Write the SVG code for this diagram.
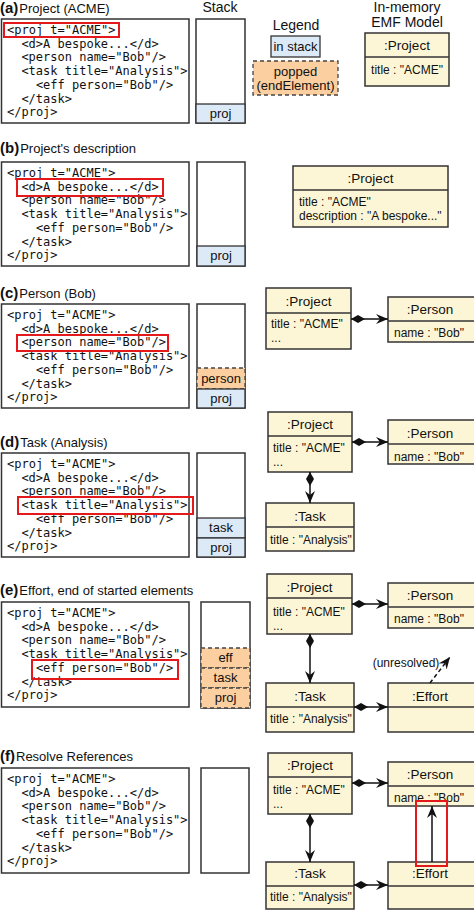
<svg xmlns="http://www.w3.org/2000/svg" width="474" height="910" viewBox="0 0 474 910">
<style>
  .bg{fill:#ffffff}
  .title{font-family:"Liberation Sans",Arial,sans-serif;font-size:13px;fill:#111}
  .lbl{font-family:"Liberation Sans",Arial,sans-serif;font-size:15px;font-weight:bold;fill:#111}
  .code{font-family:"DejaVu Sans Mono",monospace;font-size:12px;fill:#111}
  .codebox{fill:#ffffff;stroke:#333;stroke-width:1.5}
  .stackbox{fill:#ffffff;stroke:#333;stroke-width:1.5}
  .instack{fill:#dce9f7;stroke:#333;stroke-width:1.3}
  .popped{fill:#fbcf9f;stroke:#444;stroke-width:1.3;stroke-dasharray:4 3}
  .cell{font-family:"Liberation Sans",Arial,sans-serif;font-size:13px;fill:#111;text-anchor:middle}
  .hl{fill:none;stroke:#e3191c;stroke-width:2}
  .uml{fill:#fdf6d6;stroke:#333;stroke-width:1.5}
  .div{stroke:#333;stroke-width:1.3}
  .uname{font-family:"Liberation Sans",Arial,sans-serif;font-size:13.5px;fill:#111;text-anchor:middle}
  .uattr{font-family:"Liberation Sans",Arial,sans-serif;font-size:12px;fill:#111}
  .conn{stroke:#111;stroke-width:1.5;fill:none}
  .dash{stroke-dasharray:4 3}
  .head{font-family:"Liberation Sans",Arial,sans-serif;font-size:14px;fill:#111;text-anchor:middle}
</style>
<defs>
  <marker id="dia" viewBox="0 0 14 8" refX="0" refY="4" markerWidth="14" markerHeight="8" markerUnits="userSpaceOnUse" orient="auto">
    <path d="M0,4 L7,0 L14,4 L7,8 Z" fill="#111"/>
  </marker>
  <marker id="arr" viewBox="0 0 12 10" refX="12" refY="5" markerWidth="12" markerHeight="10" markerUnits="userSpaceOnUse" orient="auto">
    <path d="M0,0 L12,5 L0,10 L4,5 Z" fill="#111"/>
  </marker>
</defs>
<rect class="bg" x="0" y="0" width="474" height="910"/>

<!-- Headers -->
<g id="headers">
  <text class="head" x="220" y="12">Stack</text>
  <text class="head" x="296" y="30">Legend</text>
  <text class="head" x="407" y="12">In-memory</text>
  <text class="head" x="407" y="27">EMF Model</text>
</g>
<g id="legend">
  <rect class="instack" x="271" y="36" width="49" height="21"/>
  <text class="cell" x="295.5" y="51">in stack</text>
  <rect class="popped" x="253" y="61" width="85" height="34"/>
  <text class="cell" x="295.5" y="76">popped</text>
  <text class="cell" x="295.5" y="90">(endElement)</text>
</g>

<!-- Panel (a) -->
<g id="panel-a">
  <text x="0" y="13"><tspan class="lbl">(a)</tspan><tspan class="title" dx="1">Project (ACME)</tspan></text>
  <g id="code-a" transform="translate(0,19)">
    <rect class="codebox" x="1.5" y="0" width="187.5" height="104"/>
    <text class="code" x="7" y="15">&lt;proj t="ACME"&gt;</text>
    <text class="code" x="21.4" y="28.7">&lt;d&gt;A bespoke...&lt;/d&gt;</text>
    <text class="code" x="21.4" y="42.4">&lt;person name="Bob"/&gt;</text>
    <text class="code" x="21.4" y="56.1">&lt;task title="Analysis"&gt;</text>
    <text class="code" x="35.9" y="69.8">&lt;eff person="Bob"/&gt;</text>
    <text class="code" x="21.4" y="83.5">&lt;/task&gt;</text>
    <text class="code" x="7" y="97.2">&lt;/proj&gt;</text>
    <rect class="hl" x="4" y="4" width="115" height="14"/>
  </g>
  <g id="stack-a">
    <rect class="stackbox" x="196" y="19" width="49" height="104"/>
    <rect class="instack" x="196" y="104" width="49" height="19"/>
    <text class="cell" x="220.5" y="118">proj</text>
  </g>
  <g id="a-project">
    <rect class="uml" x="365" y="33" width="84" height="53"/>
    <line class="div" x1="365" y1="57" x2="449" y2="57"/>
    <text class="uname" x="407" y="50">:Project</text>
    <text class="uattr" x="407" y="74" text-anchor="middle">title : "ACME"</text>
  </g>
</g>

<!-- Panel (b) -->
<g id="panel-b">
  <text x="0" y="153"><tspan class="lbl">(b)</tspan><tspan class="title" dx="1">Project's description</tspan></text>
  <g id="code-b" transform="translate(0,162)">
    <rect class="codebox" x="1.5" y="0" width="187.5" height="104"/>
    <text class="code" x="7" y="15">&lt;proj t="ACME"&gt;</text>
    <text class="code" x="21.4" y="28.7">&lt;d&gt;A bespoke...&lt;/d&gt;</text>
    <text class="code" x="21.4" y="42.4">&lt;person name="Bob"/&gt;</text>
    <text class="code" x="21.4" y="56.1">&lt;task title="Analysis"&gt;</text>
    <text class="code" x="35.9" y="69.8">&lt;eff person="Bob"/&gt;</text>
    <text class="code" x="21.4" y="83.5">&lt;/task&gt;</text>
    <text class="code" x="7" y="97.2">&lt;/proj&gt;</text>
    <rect class="hl" x="17" y="17" width="146" height="17"/>
  </g>
  <g id="stack-b">
    <rect class="stackbox" x="197" y="162" width="48" height="104"/>
    <rect class="instack" x="197" y="246" width="48" height="20"/>
    <text class="cell" x="221" y="260">proj</text>
  </g>
  <g id="b-project">
    <rect class="uml" x="293" y="166" width="155" height="61"/>
    <line class="div" x1="293" y1="190" x2="448" y2="190"/>
    <text class="uname" x="370.5" y="183">:Project</text>
    <text class="uattr" x="299" y="206">title : "ACME"</text>
    <text class="uattr" x="299" y="220">description : "A bespoke..."</text>
  </g>
</g>

<!-- Panel (c) -->
<g id="panel-c">
  <text x="0" y="298"><tspan class="lbl">(c)</tspan><tspan class="title" dx="1">Person (Bob)</tspan></text>
  <g id="code-c" transform="translate(0,304)">
    <rect class="codebox" x="1.5" y="0" width="187.5" height="104"/>
    <text class="code" x="7" y="15">&lt;proj t="ACME"&gt;</text>
    <text class="code" x="21.4" y="28.7">&lt;d&gt;A bespoke...&lt;/d&gt;</text>
    <text class="code" x="21.4" y="42.4">&lt;person name="Bob"/&gt;</text>
    <text class="code" x="21.4" y="56.1">&lt;task title="Analysis"&gt;</text>
    <text class="code" x="35.9" y="69.8">&lt;eff person="Bob"/&gt;</text>
    <text class="code" x="21.4" y="83.5">&lt;/task&gt;</text>
    <text class="code" x="7" y="97.2">&lt;/proj&gt;</text>
    <rect class="hl" x="17" y="31" width="151" height="16"/>
  </g>
  <g id="stack-c">
    <rect class="stackbox" x="197" y="304" width="48" height="104"/>
    <rect class="popped" x="197" y="368" width="48" height="21"/>
    <text class="cell" x="221" y="383">person</text>
    <rect class="instack" x="197" y="389" width="48" height="19"/>
    <text class="cell" x="221" y="403">proj</text>
  </g>
  <g id="c-project">
    <rect class="uml" x="266" y="288" width="85" height="61"/>
    <line class="div" x1="266" y1="313" x2="351" y2="313"/>
    <text class="uname" x="308.5" y="306">:Project</text>
    <text class="uattr" x="271" y="328">title : "ACME"</text>
    <text class="uattr" x="271" y="342">...</text>
  </g>
  <g id="c-person">
    <rect class="uml" x="388" y="297" width="100" height="45"/>
    <line class="div" x1="388" y1="321" x2="488" y2="321"/>
    <text class="uname" x="430" y="314">:Person</text>
    <text class="uattr" x="394" y="337">name : "Bob"</text>
  </g>
</g>

<!-- Panel (d) -->
<g id="panel-d">
  <text x="0" y="447"><tspan class="lbl">(d)</tspan><tspan class="title" dx="1">Task (Analysis)</tspan></text>
  <g id="code-d" transform="translate(0,453)">
    <rect class="codebox" x="1.5" y="0" width="187.5" height="104"/>
    <text class="code" x="7" y="15">&lt;proj t="ACME"&gt;</text>
    <text class="code" x="21.4" y="28.7">&lt;d&gt;A bespoke...&lt;/d&gt;</text>
    <text class="code" x="21.4" y="42.4">&lt;person name="Bob"/&gt;</text>
    <text class="code" x="21.4" y="56.1">&lt;task title="Analysis"&gt;</text>
    <text class="code" x="35.9" y="69.8">&lt;eff person="Bob"/&gt;</text>
    <text class="code" x="21.4" y="83.5">&lt;/task&gt;</text>
    <text class="code" x="7" y="97.2">&lt;/proj&gt;</text>
    <rect class="hl" x="18" y="44" width="175" height="17"/>
  </g>
  <g id="stack-d">
    <rect class="stackbox" x="197" y="453" width="48" height="104"/>
    <rect class="instack" x="197" y="518" width="48" height="20"/>
    <text class="cell" x="221" y="532">task</text>
    <rect class="instack" x="197" y="538" width="48" height="19"/>
    <text class="cell" x="221" y="552">proj</text>
  </g>
  <g id="d-project">
    <rect class="uml" x="268" y="412" width="84" height="60"/>
    <line class="div" x1="268" y1="436" x2="352" y2="436"/>
    <text class="uname" x="310" y="429">:Project</text>
    <text class="uattr" x="273" y="452">title : "ACME"</text>
    <text class="uattr" x="273" y="466">...</text>
  </g>
  <g id="d-person">
    <rect class="uml" x="388" y="420" width="100" height="44"/>
    <line class="div" x1="388" y1="444" x2="488" y2="444"/>
    <text class="uname" x="430" y="438">:Person</text>
    <text class="uattr" x="394" y="461">name : "Bob"</text>
  </g>
  <g id="d-task">
    <rect class="uml" x="266" y="503" width="88" height="48"/>
    <line class="div" x1="266" y1="527" x2="354" y2="527"/>
    <text class="uname" x="310" y="521">:Task</text>
    <text class="uattr" x="270" y="544">title : "Analysis"</text>
  </g>
</g>

<!-- Panel (e) -->
<g id="panel-e">
  <text x="0" y="595"><tspan class="lbl">(e)</tspan><tspan class="title" dx="1">Effort, end of started elements</tspan></text>
  <g id="code-e" transform="translate(0,602)">
    <rect class="codebox" x="1.5" y="0" width="187.5" height="105"/>
    <text class="code" x="7" y="15">&lt;proj t="ACME"&gt;</text>
    <text class="code" x="21.4" y="28.7">&lt;d&gt;A bespoke...&lt;/d&gt;</text>
    <text class="code" x="21.4" y="42.4">&lt;person name="Bob"/&gt;</text>
    <text class="code" x="21.4" y="56.1">&lt;task title="Analysis"&gt;</text>
    <text class="code" x="35.9" y="69.8">&lt;eff person="Bob"/&gt;</text>
    <text class="code" x="21.4" y="83.5">&lt;/task&gt;</text>
    <text class="code" x="7" y="97.2">&lt;/proj&gt;</text>
    <rect class="hl" x="32" y="58" width="146" height="19"/>
  </g>
  <g id="stack-e">
    <rect class="stackbox" x="201" y="602" width="49" height="106"/>
    <rect class="popped" x="201" y="648" width="49" height="20"/>
    <text class="cell" x="225.5" y="662">eff</text>
    <rect class="popped" x="201" y="668" width="49" height="20"/>
    <text class="cell" x="225.5" y="682">task</text>
    <rect class="popped" x="201" y="688" width="49" height="20"/>
    <text class="cell" x="225.5" y="702">proj</text>
  </g>
  <g id="e-project">
    <rect class="uml" x="267" y="574" width="85" height="60"/>
    <line class="div" x1="267" y1="598" x2="352" y2="598"/>
    <text class="uname" x="309.5" y="592">:Project</text>
    <text class="uattr" x="273" y="616">title : "ACME"</text>
    <text class="uattr" x="273" y="630">...</text>
  </g>
  <g id="e-person">
    <rect class="uml" x="388" y="583" width="100" height="45"/>
    <line class="div" x1="388" y1="607" x2="488" y2="607"/>
    <text class="uname" x="430" y="600">:Person</text>
    <text class="uattr" x="394" y="623">name : "Bob"</text>
  </g>
  <g id="e-task">
    <rect class="uml" x="266" y="683" width="88" height="49"/>
    <line class="div" x1="266" y1="707" x2="354" y2="707"/>
    <text class="uname" x="310" y="701">:Task</text>
    <text class="uattr" x="270" y="723">title : "Analysis"</text>
  </g>
  <g id="e-effort">
    <rect class="uml" x="388" y="683" width="100" height="49"/>
    <line class="div" x1="388" y1="707" x2="488" y2="707"/>
    <text class="uname" x="430" y="701">:Effort</text>
  </g>
  <text class="uattr" x="406" y="667" text-anchor="middle">(unresolved)</text>
</g>

<!-- Panel (f) -->
<g id="panel-f">
  <text x="0" y="761"><tspan class="lbl">(f)</tspan><tspan class="title" dx="1">Resolve References</tspan></text>
  <g id="code-f" transform="translate(0,768)">
    <rect class="codebox" x="1.5" y="0" width="187.5" height="105"/>
    <text class="code" x="7" y="15">&lt;proj t="ACME"&gt;</text>
    <text class="code" x="21.4" y="28.7">&lt;d&gt;A bespoke...&lt;/d&gt;</text>
    <text class="code" x="21.4" y="42.4">&lt;person name="Bob"/&gt;</text>
    <text class="code" x="21.4" y="56.1">&lt;task title="Analysis"&gt;</text>
    <text class="code" x="35.9" y="69.8">&lt;eff person="Bob"/&gt;</text>
    <text class="code" x="21.4" y="83.5">&lt;/task&gt;</text>
    <text class="code" x="7" y="97.2">&lt;/proj&gt;</text>
  </g>
  <g id="stack-f">
    <rect class="stackbox" x="201" y="768" width="48" height="105"/>
  </g>
  <g id="f-project">
    <rect class="uml" x="268" y="753" width="84" height="61"/>
    <line class="div" x1="268" y1="777" x2="352" y2="777"/>
    <text class="uname" x="310" y="770">:Project</text>
    <text class="uattr" x="273" y="794">title : "ACME"</text>
    <text class="uattr" x="273" y="808">...</text>
  </g>
  <g id="f-person">
    <rect class="uml" x="388" y="762" width="100" height="44"/>
    <line class="div" x1="388" y1="786" x2="488" y2="786"/>
    <text class="uname" x="430" y="779">:Person</text>
    <text class="uattr" x="394" y="802">name : "Bob"</text>
  </g>
  <g id="f-task">
    <rect class="uml" x="266" y="862" width="88" height="47"/>
    <line class="div" x1="266" y1="886" x2="354" y2="886"/>
    <text class="uname" x="310" y="878">:Task</text>
    <text class="uattr" x="270" y="901">title : "Analysis"</text>
  </g>
  <g id="f-effort">
    <rect class="uml" x="388" y="862" width="100" height="47"/>
    <line class="div" x1="388" y1="886" x2="488" y2="886"/>
    <text class="uname" x="430" y="878">:Effort</text>
  </g>
</g>

<!-- Connectors -->
<g id="connectors">
  <line class="conn" x1="351" y1="319" x2="388" y2="319" marker-start="url(#dia)" marker-end="url(#arr)"/>
  <line class="conn" x1="352" y1="442" x2="388" y2="442" marker-start="url(#dia)" marker-end="url(#arr)"/>
  <line class="conn" x1="310" y1="472" x2="310" y2="503" marker-start="url(#dia)" marker-end="url(#arr)"/>
  <line class="conn" x1="352" y1="604" x2="388" y2="604" marker-start="url(#dia)" marker-end="url(#arr)"/>
  <line class="conn" x1="310" y1="634" x2="310" y2="683" marker-start="url(#dia)" marker-end="url(#arr)"/>
  <line class="conn" x1="354" y1="707" x2="388" y2="707" marker-start="url(#dia)" marker-end="url(#arr)"/>
  <line class="conn dash" x1="430" y1="683" x2="450" y2="657" marker-end="url(#arr)"/>
  <line class="conn" x1="352" y1="783" x2="388" y2="783" marker-start="url(#dia)" marker-end="url(#arr)"/>
  <line class="conn" x1="310" y1="814" x2="310" y2="862" marker-start="url(#dia)" marker-end="url(#arr)"/>
  <line class="conn" x1="354" y1="885" x2="388" y2="885" marker-start="url(#dia)" marker-end="url(#arr)"/>
  <line class="conn" x1="432" y1="862" x2="432" y2="806" marker-end="url(#arr)"/>
</g>
<rect id="f-highlight" class="hl" x="416" y="801" width="31" height="65"/>
</svg>
